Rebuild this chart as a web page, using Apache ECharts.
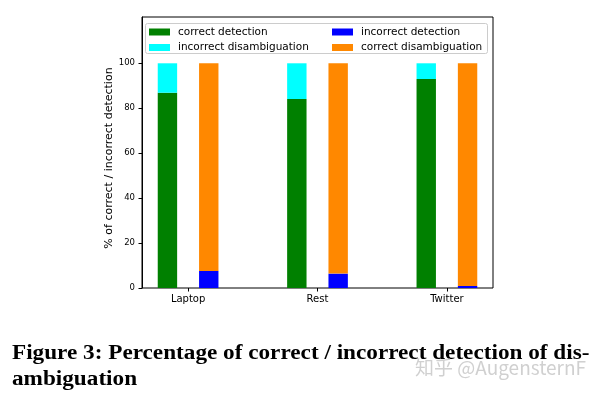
<!DOCTYPE html>
<html>
<head>
<meta charset="utf-8">
<script src="https://cdn.jsdelivr.net/npm/echarts@6/dist/echarts.min.js"></script>
<style>html,body{margin:0;padding:0;background:#fff}#c{width:600px;height:396px}</style>
</head>
<body>
<div id="c"></div>
<script>
const categories = ['Laptop', 'Rest', 'Twitter'];
const correctDetection = [86.9, 84.1, 93.0];
const incorrectDisambiguation = [13.1, 15.9, 7.0];
const incorrectDetection = [7.6, 6.4, 0.9];
const correctDisambiguation = [92.4, 93.6, 99.1];
const yTicks = [0, 20, 40, 60, 80, 100];
const yLabel = '% of correct / incorrect detection';
const caption = 'Figure 3: Percentage of correct / incorrect detection of dis-\nambiguation';
const watermark = '知乎 @AugensternF';

const font = 'DejaVu Sans';
const chart = echarts.init(document.getElementById('c'), null, {renderer: 'canvas'});
const barW = 19.4;
const YMAX = 120.6;
const legendText = {fontSize: 10.5, fontFamily: font, color: '#000', lineHeight: 12, padding: [0, 0, 0, 3]};
chart.setOption({
  animation: false,
  backgroundColor: '#fff',
  textStyle: {fontFamily: font},
  grid: [
    {left: 142, top: 17, right: 107, bottom: 108, show: true, borderColor: '#000', borderWidth: 1},
    {left: 123.4, top: 17, right: 88.4, bottom: 108, show: false}
  ],
  xAxis: [
    {gridIndex: 0, type: 'value', min: 0, max: 1, show: false},
    {gridIndex: 1, type: 'category', data: categories, boundaryGap: true,
     axisLine: {show: false},
     axisTick: {show: true, alignWithLabel: true, length: 3.5, lineStyle: {color: '#000'}},
     axisLabel: {color: '#000', fontSize: 10, fontFamily: font, margin: 6}}
  ],
  yAxis: [
    {gridIndex: 0, type: 'value', min: 0, max: YMAX,
     splitLine: {show: false},
     axisLine: {show: true, onZero: false, lineStyle: {color: '#000'}},
     axisTick: {show: true, length: 3.5, customValues: yTicks, lineStyle: {color: '#000'}},
     axisLabel: {customValues: yTicks, color: '#000', fontSize: 8.5, fontFamily: font, margin: 7}},
    {gridIndex: 1, type: 'value', min: 0, max: YMAX, show: false}
  ],
  legend: [
    {data: ['correct detection', 'incorrect disambiguation'], orient: 'vertical', left: 149, top: 26,
     itemWidth: 21, itemHeight: 7, itemGap: 3.5, icon: 'rect', padding: 0, textStyle: legendText},
    {data: ['incorrect detection', 'correct disambiguation'], orient: 'vertical', left: 332, top: 26,
     itemWidth: 21, itemHeight: 7, itemGap: 3.5, icon: 'rect', padding: 0, textStyle: legendText}
  ],
  graphic: [
    {type: 'rect', left: 145, top: 23, shape: {width: 342, height: 30, r: 2}, style: {fill: 'rgba(255,255,255,0.8)', stroke: '#cccccc', lineWidth: 1}, z: 1},
    {type: 'text', x: 109, y: 158, rotation: Math.PI / 2, style: {text: yLabel, font: '11px "DejaVu Sans"', fill: '#000', align: 'center', verticalAlign: 'middle'}},
    {type: 'text', left: 12, top: 341, scaleX: 1.16, style: {text: caption, font: 'bold 20px "Liberation Serif"', fill: '#000', lineHeight: 26}},
    {type: 'text', left: 415, top: 358, style: {text: watermark, font: '19px "Noto Sans CJK SC"', fill: '#d0d0d0'}}
  ],
  series: [
    {name: 'correct detection', type: 'bar', xAxisIndex: 1, yAxisIndex: 1, stack: 'a', barWidth: barW, barGap: '113%', itemStyle: {color: '#008000'}, data: correctDetection},
    {name: 'incorrect disambiguation', type: 'bar', xAxisIndex: 1, yAxisIndex: 1, stack: 'a', barWidth: barW, barGap: '113%', itemStyle: {color: '#00ffff'}, data: incorrectDisambiguation},
    {name: 'incorrect detection', type: 'bar', xAxisIndex: 1, yAxisIndex: 1, stack: 'b', barWidth: barW, barGap: '113%', itemStyle: {color: '#0000ff'}, data: incorrectDetection},
    {name: 'correct disambiguation', type: 'bar', xAxisIndex: 1, yAxisIndex: 1, stack: 'b', barWidth: barW, barGap: '113%', itemStyle: {color: '#ff8800'}, data: correctDisambiguation}
  ]
});
</script>
</body>
</html>
